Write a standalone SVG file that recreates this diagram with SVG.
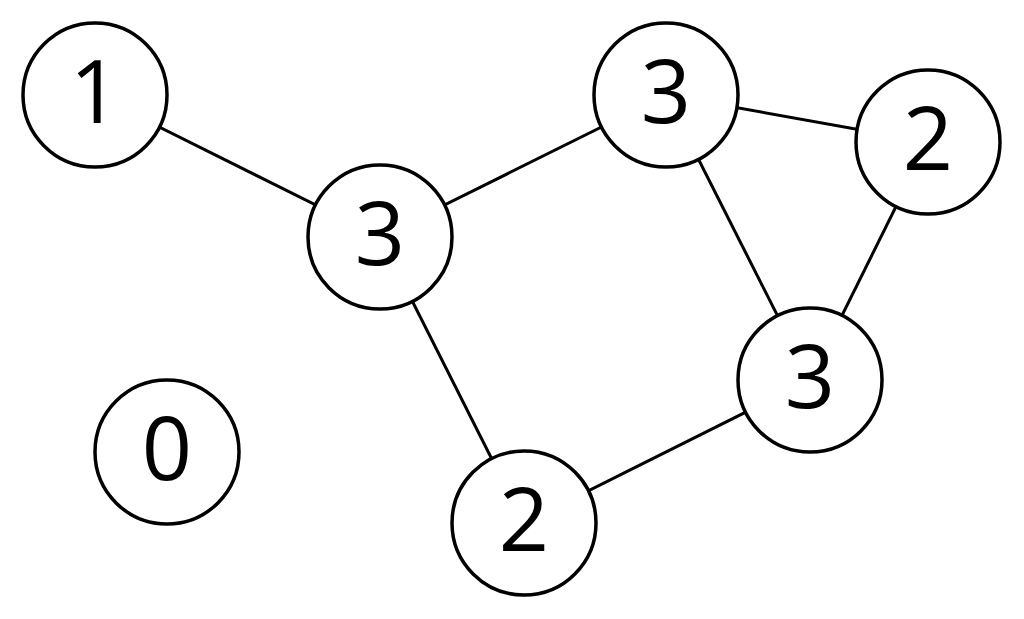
<svg xmlns="http://www.w3.org/2000/svg" width="1024" height="619" viewBox="0 0 1024 619">
<style>
.n{fill:#fff;stroke:#000;stroke-width:3.5}
.e{stroke:#000;stroke-width:3;fill:none}
.t{font-family:"Open Sans","Noto Sans",sans-serif;font-size:88px;font-weight:500;text-anchor:middle;fill:#000}
</style>
<rect width="1024" height="619" fill="#fff"/>
<g id="edges">
<line class="e" x1="95" y1="95" x2="380" y2="237"/>
<line class="e" x1="380" y1="237" x2="666" y2="95"/>
<line class="e" x1="380" y1="237" x2="524" y2="523"/>
<line class="e" x1="666" y1="95" x2="928" y2="142"/>
<line class="e" x1="666" y1="95" x2="810" y2="380"/>
<line class="e" x1="928" y1="142" x2="810" y2="380"/>
<line class="e" x1="810" y1="380" x2="524" y2="523"/>
</g>
<g id="n1"><circle class="n" cx="95" cy="95" r="72"/><text class="t" x="95" y="123">1</text></g>
<g id="n3a"><circle class="n" cx="380" cy="237" r="72"/><text class="t" x="380" y="265">3</text></g>
<g id="n3b"><circle class="n" cx="666" cy="95" r="72"/><text class="t" x="666" y="123">3</text></g>
<g id="n2a"><circle class="n" cx="928" cy="142" r="72"/><text class="t" x="928" y="170">2</text></g>
<g id="n3c"><circle class="n" cx="810" cy="380" r="72"/><text class="t" x="810" y="408">3</text></g>
<g id="n2b"><circle class="n" cx="524" cy="523" r="72"/><text class="t" x="524" y="551">2</text></g>
<g id="n0"><circle class="n" cx="167" cy="452" r="72"/><text class="t" x="167" y="480">0</text></g>
</svg>
